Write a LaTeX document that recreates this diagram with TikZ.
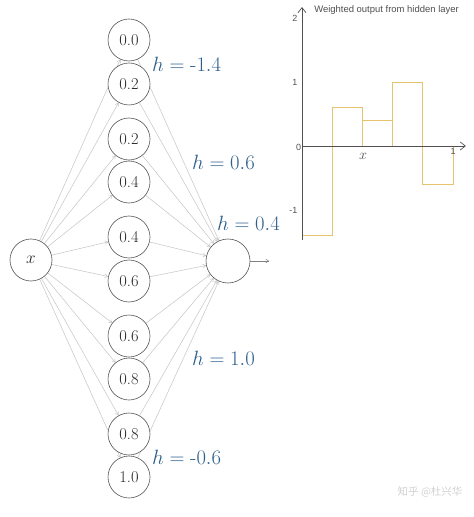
\documentclass[tikz,border=0pt]{standalone}
\usepackage{fontspec}
\newfontfamily\sansf{Liberation Sans}
\newfontfamily\cjk{Noto Sans CJK SC}
\usetikzlibrary{arrows.meta,backgrounds}
\definecolor{hblue}{HTML}{2D5F8C}
\definecolor{bargold}{HTML}{E6C46E}
\definecolor{edgegray}{HTML}{C4C4C4}
\definecolor{circgray}{HTML}{555555}
\definecolor{axisgray}{HTML}{505050}
\begin{document}
\begin{tikzpicture}[x=1bp,y=-1bp,
  neuron/.style={circle,draw=circgray,line width=0.6bp,fill=white,minimum size=42bp,inner sep=0pt,
    font=\fontsize{16.5}{18}\selectfont,text=black!85},
  edge/.style={draw=edgegray,line width=0.5bp,-{To[length=3.5bp,width=4bp]}},
  hlabel/.style={anchor=west,inner sep=0pt,text=hblue,font=\fontsize{21}{23}\selectfont},
  ticklab/.style={inner sep=0pt,text=axisgray,font=\sansf\fontsize{9}{10}\selectfont},
  bar/.style={draw=bargold,line width=0.9bp},
  axis/.style={draw=axisgray,line width=0.7bp,-{Straight Barb[length=5bp,width=8bp]}}]
\useasboundingbox (0,0) rectangle (474,517);

% nodes
\node[neuron] (x) at (31,260) {$x$};
\node[neuron] (h1) at (129,40) {0.0};
\node[neuron] (h2) at (129,84) {0.2};
\node[neuron] (h3) at (129,139) {0.2};
\node[neuron] (h4) at (129,182) {0.4};
\node[neuron] (h5) at (129,237) {0.4};
\node[neuron] (h6) at (129,281) {0.6};
\node[neuron] (h7) at (129,336) {0.6};
\node[neuron] (h8) at (129,379) {0.8};
\node[neuron] (h9) at (129,434) {0.8};
\node[neuron] (h10) at (129,477) {1.0};
\node[neuron,minimum size=44bp] (out) at (228,261) {};
\coordinate (end) at (269,261);

\begin{pgfonlayer}{background}
\foreach \i in {1,...,10}{
  \draw[edge] (x) -- (h\i);
  \draw[edge] (h\i) -- (out);
}
\end{pgfonlayer}
\draw[edge,draw=gray] (out) -- (end);

% labels
\node[hlabel] (l1) at (152,64) {$h=\mbox{-}1.4$};
\node[hlabel] (l2) at (192,162) {$h=0.6$};
\node[hlabel] (l3) at (217,223) {$h=0.4$};
\node[hlabel] (l4) at (192,358) {$h=1.0$};
\node[hlabel] (l5) at (152,457) {$h=\mbox{-}0.6$};

% chart
\begin{scope}[shift={(302,146)},x=151bp,y=64bp]
  \draw[bar] (0,0) rectangle (0.2,-1.4);
  \draw[bar] (0.2,0) rectangle (0.4,0.6);
  \draw[bar] (0.4,0) rectangle (0.6,0.4);
  \draw[bar] (0.6,0) rectangle (0.8,1.0);
  \draw[bar] (0.8,0) rectangle (1.0,-0.6);
  \coordinate (o) at (0,0);
  \coordinate (ytop) at (0,2.17);
  \coordinate (ybot) at (0,-1.47);
  \coordinate (xend) at (1.085,0);
  \draw[axis] (ybot) -- (ytop);
  \draw[axis] (o) -- (xend);
  \node[ticklab,anchor=east] (t2) at (-0.03,2.0) {2};
  \node[ticklab,anchor=east] (t1) at (-0.03,1.0) {1};
  \node[ticklab,anchor=east] (t0) at (-0.005,-0.02) {0};
  \node[ticklab,anchor=east] (tm1) at (-0.03,-1.0) {-1};
  \node[ticklab,anchor=north] (tx1) at (1.0,-0.04) {1};
  \node[inner sep=0pt,font=\fontsize{14}{15}\selectfont,text=axisgray] (xl) at (0.405,-0.17) {$x$};
  \node[ticklab,font=\sansf\fontsize{9.5}{11}\selectfont,anchor=west] (title) at (0.08,2.12) {Weighted output from hidden layer};
\end{scope}

\node[inner sep=0pt,text=black!18,font=\cjk\fontsize{10.5}{12}\selectfont] (wm) at (430,492) {知乎 @杜兴华};
\end{tikzpicture}
\end{document}
